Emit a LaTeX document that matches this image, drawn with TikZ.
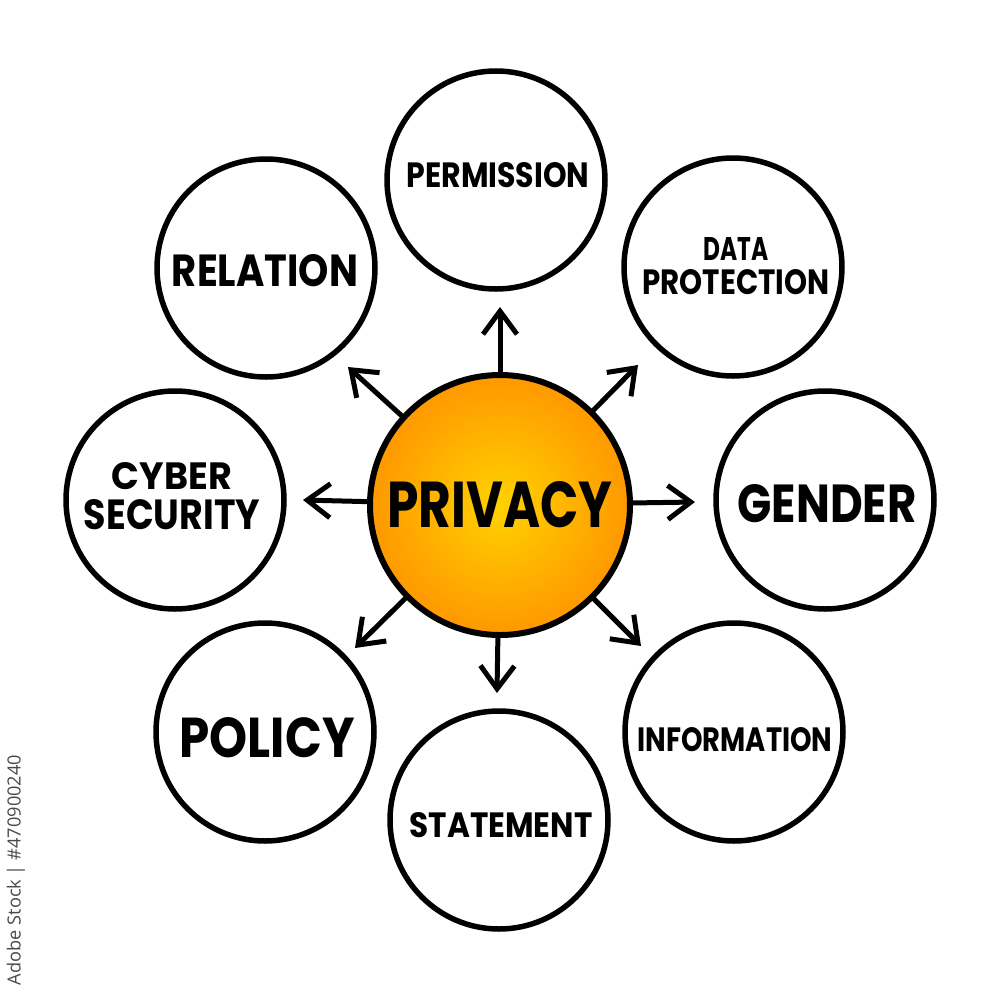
\documentclass[tikz,border=0pt]{standalone}
\usepackage{fontspec}
\usepackage{graphicx}
\setmainfont{Poppins}
\newfontfamily\wmfont{Open Sans}
\usetikzlibrary{arrows.meta}
\definecolor{hubin}{HTML}{FFD200}
\definecolor{hubout}{HTML}{FF9800}
\definecolor{wmgray}{HTML}{4A4A4A}
\newcommand{\fitwh}[3]{\resizebox{#1}{#2}{\bfseries #3}}
\begin{document}
\begin{tikzpicture}[x=0.1mm,y=-0.1mm,
  topic/.style={circle,draw=black,line width=0.55mm,minimum size=21.8mm,inner sep=0pt},
  hub/.style={circle,draw=black,line width=0.6mm,minimum size=26.0mm,inner sep=0pt,inner color=hubin,outer color=hubout},
  lbl/.style={inner sep=0pt,text=black},
  lbltwo/.style={inner sep=0pt,text=black,align=center,font={\fontsize{10pt}{#1}\selectfont}},
  arr/.style={line width=0.5mm,line cap=round,-{Straight Barb[length=2.3mm,width=3.4mm,line width=0.5mm]}},
  ]
\useasboundingbox[fill=white] (0,0) rectangle (1000,1000);
% hub
\node[hub] (c) at (500,505) {};
\node[lbl] (ctext) at (500,505) {\fitwh{22.5mm}{4.6mm}{PRIVACY}};
% topics
\node[topic] (n1) at (496,180) {};
\node[topic] (n2) at (733,267) {};
\node[topic] (n3) at (825,500) {};
\node[topic] (n4) at (734,732) {};
\node[topic] (n5) at (499,820) {};
\node[topic] (n6) at (265,732) {};
\node[topic] (n7) at (175,500) {};
\node[topic] (n8) at (266,268) {};
% labels
\node[lbl] (l1) at (498,175) {\fitwh{18.3mm}{2.5mm}{PERMISSION}};
\node[lbltwo=3.4mm] (l2) at (736,266) {\fitwh{6.5mm}{2.3mm}{DATA}\\\fitwh{18.7mm}{2.5mm}{PROTECTION}};
\node[lbl] (l3) at (827,504) {\fitwh{17.9mm}{3.8mm}{GENDER}};
\node[lbl] (l4) at (735,740) {\fitwh{19.5mm}{2.4mm}{INFORMATION}};
\node[lbl] (l5) at (501,825) {\fitwh{18.3mm}{2.5mm}{STATEMENT}};
\node[lbl] (l6) at (267,738) {\fitwh{17.5mm}{4.0mm}{POLICY}};
\node[lbltwo=4.0mm] (l7) at (172,496) {\fitwh{12.0mm}{2.7mm}{CYBER}\\\fitwh{17.6mm}{3.0mm}{SECURITY}};
\node[lbl] (l8) at (265,271) {\fitwh{18.6mm}{3.2mm}{RELATION}};
% arrow tips
\coordinate (t1) at (500,307);
\coordinate (t2) at (638,365);
\coordinate (t3) at (695,502);
\coordinate (t4) at (641,646);
\coordinate (t5) at (497,693);
\coordinate (t6) at (355,648);
\coordinate (t7) at (303,500);
\coordinate (t8) at (348,367);
\foreach \i in {1,...,8} {\draw[arr] (c) -- (t\i);}
% watermark
\node[lbl,rotate=90,text=wmgray] (wm) at (16,870) {\resizebox{23mm}{!}{\wmfont Adobe Stock | \#470900240}};
\end{tikzpicture}
\end{document}
